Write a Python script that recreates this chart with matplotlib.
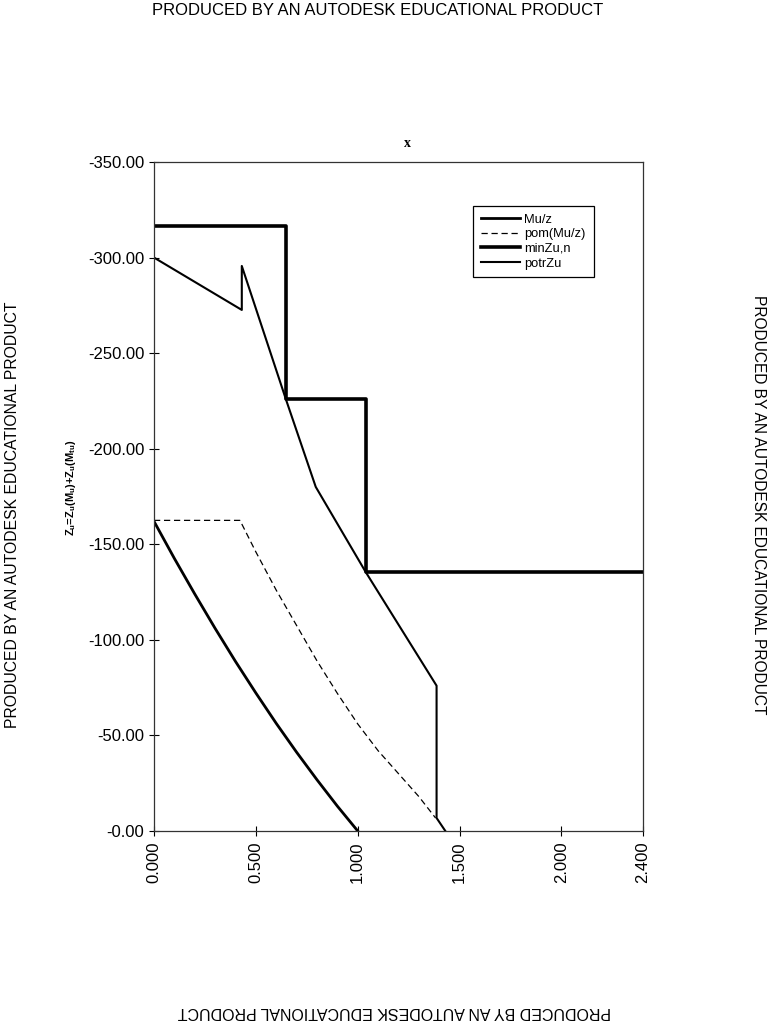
import matplotlib
matplotlib.use('Agg')
import matplotlib.pyplot as plt
from matplotlib.ticker import FormatStrFormatter

plt.rcParams['font.family'] = ['Liberation Sans', 'DejaVu Sans']
plt.rcParams['mathtext.fontset'] = 'custom'
plt.rcParams['mathtext.rm'] = 'Liberation Sans:bold'
plt.rcParams['mathtext.it'] = 'Liberation Sans:bold'

# Mu/z
mu_x = [0.0, 0.1, 0.2, 0.3, 0.4, 0.5, 0.6, 0.7, 0.8, 0.9, 1.0]
mu_y = [-162.0, -142.6, -124.0, -106.0, -88.7, -72.2, -56.3, -41.2, -26.8, -13.0, 0.0]

# pom(Mu/z)
pom_x = [0.0, 0.422, 0.5, 0.6, 0.7, 0.8, 0.9, 1.0, 1.1, 1.2, 1.3, 1.382]
pom_y = [-162.5, -162.5, -146.0, -126.0, -107.5, -89.0, -72.0, -56.0, -42.0, -30.0, -18.0, -6.8]

# minZu,n
min_x = [0.0, 0.647, 0.647, 1.039, 1.039, 2.4]
min_y = [-316.3, -316.3, -226.0, -226.0, -135.5, -135.5]

# potrZu
potr_x = [0.0, 0.431, 0.431, 0.647, 0.794, 1.039, 1.387, 1.387, 1.43]
potr_y = [-300.0, -272.6, -295.6, -226.0, -180.0, -135.5, -76.0, -6.8, 0.0]

x_ticks = [0.0, 0.5, 1.0, 1.5, 2.0, 2.4]
y_ticks = [0, -50, -100, -150, -200, -250, -300, -350]

fig = plt.figure(figsize=(7.68, 10.24), dpi=100)
ax = fig.add_axes([0.2005, 0.1885, 0.6367, 0.6533])

ax.plot(mu_x, mu_y, color='black', lw=2.0, label='Mu/z')
ax.plot(pom_x, pom_y, color='black', lw=0.9, ls=(0, (5, 3)), label='pom(Mu/z)')
ax.plot(min_x, min_y, color='black', lw=2.6, label='minZu,n')
ax.plot(potr_x, potr_y, color='black', lw=1.5, label='potrZu')

ax.set_xlim(0, 2.4)
ax.set_ylim(0, -350)
ax.set_xticks(x_ticks)
ax.set_yticks(y_ticks)
ax.xaxis.set_major_formatter(FormatStrFormatter('%.3f'))
ax.set_yticklabels(['-%.2f' % abs(v) for v in y_ticks])
ax.tick_params(axis='both', direction='inout', length=7, width=0.8, labelsize=12)
ax.tick_params(axis='x', labelrotation=90, pad=4)
for s in ax.spines.values():
    s.set_linewidth(0.9)
    s.set_color('#333333')

ax.text(0.519, 1.028, 'x', transform=ax.transAxes, ha='center', va='center',
        fontfamily='Liberation Serif', fontweight='bold', fontsize=10)
ax.set_ylabel('Z$_u$=Z$_u$(M$_u$)+Z$_u$(M$_{tu}$)', fontsize=8, fontweight='bold')
ax.yaxis.set_label_coords(-0.155, 0.513)

leg = ax.legend(loc='upper left', bbox_to_anchor=(0.64, 0.944), fontsize=9.3,
                fancybox=False, framealpha=1, edgecolor='black', handlelength=3.0,
                labelspacing=0.2, handletextpad=0.35, borderpad=0.6)
leg.get_frame().set_linewidth(0.9)

wm = 'PRODUCED BY AN AUTODESK EDUCATIONAL PRODUCT'
fig.text(0.492, 0.990, wm, ha='center', va='center', fontsize=12)
fig.text(0.514, 0.012, wm, ha='center', va='center', fontsize=11.55, rotation=180)
fig.text(0.016, 0.497, wm, ha='center', va='center', fontsize=11.3, rotation=90)
fig.text(0.987, 0.507, wm, ha='center', va='center', fontsize=11.2, rotation=270)

fig.savefig('out.png', dpi=100)
